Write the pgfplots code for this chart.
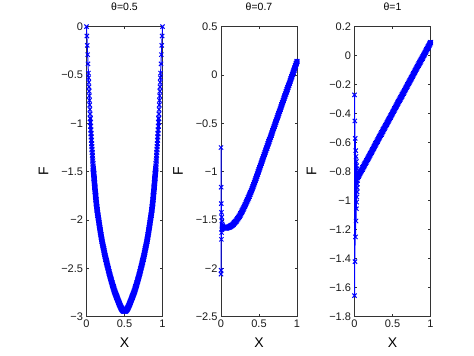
\documentclass[border=0pt]{standalone}
\usepackage{fontspec}
\setmainfont{Liberation Sans}
\usepackage{pgfplots}
\pgfplotsset{compat=1.18}
\definecolor{mblue}{RGB}{0,0,255}
\pgfplotsset{
  mstyle/.style={
    scale only axis, width=76pt, height=290pt, anchor=south west,
    xmin=0, xmax=1, xtick={0,0.5,1}, xticklabels={0,0.5,1},
    tick align=inside, major tick length=2.5pt,
    axis line style={black!80, line width=0.6pt}, every tick/.style={black!80, line width=0.6pt},
    tick label style={font=\fontsize{11}{13}\selectfont, text=black!90},
    title style={font=\fontsize{10.5}{12}\selectfont, at={(axis description cs:0.5,1.048)}, anchor=center},
    xlabel={X}, ylabel={F},
    label style={font=\fontsize{14}{16}\selectfont},
    xlabel style={at={(axis description cs:0.5,-0.0897)}, anchor=center},
    ylabel style={at={(axis description cs:-0.566,0.5)}, anchor=center},
    clip=false,
  },
  mplot/.style={color=mblue, mark=x, mark size=3pt, line width=1pt, mark options={solid, line width=1pt}, line join=round},
  mmid/.style={color=mblue, mark=x, mark size=3.1pt, line width=3pt, mark options={solid, line width=1.05pt}, line join=round, line cap=round},
  mthick/.style={color=mblue, mark=x, mark size=3.2pt, line width=5.5pt, mark options={solid, line width=1.1pt}, line join=round, line cap=round},
}
\begin{document}
\begin{tikzpicture}
\useasboundingbox (0,0) rectangle (474pt,356pt);
% ---------- theta = 0.5 ----------
\begin{axis}[mstyle, at={(86.5pt,39.3pt)}, title={θ=0.5},
  ymin=-3, ymax=0, ytick={-3,-2.5,-2,-1.5,-1,-0.5,0},
  yticklabels={−3,−2.5,−2,−1.5,−1,−0.5,0}]
\addplot[mplot] coordinates {
(0,0) (0.005,-0.097) (0.010,-0.193) (0.015,-0.289) (0.020,-0.385) (0.025,-0.480)
(0.0275,-0.528) (0.030,-0.575) (0.0325,-0.622) (0.035,-0.668) (0.0375,-0.715)
(0.040,-0.762) (0.0425,-0.809) (0.045,-0.856) (0.0475,-0.903) (0.050,-0.950)
};
\addplot[mmid] coordinates {
(0.050,-0.950) (0.0525,-0.991) (0.055,-1.030) (0.0575,-1.068) (0.060,-1.105)
(0.0625,-1.140) (0.065,-1.175) (0.0675,-1.208) (0.070,-1.240) (0.0725,-1.270)
(0.075,-1.300) (0.0775,-1.330) (0.080,-1.360) (0.0825,-1.389) (0.085,-1.417)
(0.0875,-1.444) (0.090,-1.471)
};
\addplot[mthick] coordinates {
(0.090,-1.471) (0.095,-1.522) (0.100,-1.570)
(0.105,-1.617) (0.110,-1.662) (0.115,-1.705) (0.120,-1.748) (0.125,-1.790)
(0.130,-1.828) (0.135,-1.863) (0.140,-1.895) (0.145,-1.924) (0.150,-1.950)
(0.155,-1.977) (0.160,-2.003) (0.165,-2.029) (0.170,-2.055) (0.175,-2.080)
(0.180,-2.104) (0.185,-2.128) (0.190,-2.152) (0.195,-2.176) (0.200,-2.200)
(0.205,-2.220) (0.210,-2.240) (0.215,-2.259) (0.220,-2.278) (0.225,-2.297)
(0.230,-2.316) (0.235,-2.335) (0.240,-2.353) (0.245,-2.372) (0.250,-2.390)
(0.255,-2.406) (0.260,-2.422) (0.265,-2.438) (0.270,-2.454) (0.275,-2.470)
(0.280,-2.486) (0.285,-2.502) (0.290,-2.518) (0.295,-2.534) (0.300,-2.550)
(0.305,-2.564) (0.310,-2.578) (0.315,-2.592) (0.320,-2.606) (0.325,-2.620)
(0.330,-2.634) (0.335,-2.648) (0.340,-2.662) (0.345,-2.676) (0.350,-2.690)
(0.355,-2.702) (0.360,-2.714) (0.365,-2.726) (0.370,-2.738) (0.375,-2.749)
(0.380,-2.760) (0.385,-2.771) (0.390,-2.781) (0.395,-2.791) (0.400,-2.800)
(0.405,-2.811) (0.410,-2.822) (0.415,-2.832) (0.420,-2.842) (0.425,-2.852)
(0.430,-2.862) (0.435,-2.872) (0.440,-2.881) (0.445,-2.890) (0.450,-2.899)
(0.455,-2.907) (0.460,-2.914) (0.465,-2.920) (0.470,-2.926) (0.475,-2.931)
(0.480,-2.935) (0.485,-2.938) (0.490,-2.940) (0.495,-2.941) (0.500,-2.942)
(0.505,-2.941) (0.510,-2.940) (0.515,-2.938) (0.520,-2.935) (0.525,-2.931)
(0.530,-2.926) (0.535,-2.920) (0.540,-2.914) (0.545,-2.907) (0.550,-2.899)
(0.555,-2.890) (0.560,-2.881) (0.565,-2.872) (0.570,-2.862) (0.575,-2.852)
(0.580,-2.842) (0.585,-2.832) (0.590,-2.822) (0.595,-2.811) (0.600,-2.800)
(0.605,-2.791) (0.610,-2.781) (0.615,-2.771) (0.620,-2.760) (0.625,-2.749)
(0.630,-2.738) (0.635,-2.726) (0.640,-2.714) (0.645,-2.702) (0.650,-2.690)
(0.655,-2.676) (0.660,-2.662) (0.665,-2.648) (0.670,-2.634) (0.675,-2.620)
(0.680,-2.606) (0.685,-2.592) (0.690,-2.578) (0.695,-2.564) (0.700,-2.550)
(0.705,-2.534) (0.710,-2.518) (0.715,-2.502) (0.720,-2.486) (0.725,-2.470)
(0.730,-2.454) (0.735,-2.438) (0.740,-2.422) (0.745,-2.406) (0.750,-2.390)
(0.755,-2.372) (0.760,-2.353) (0.765,-2.335) (0.770,-2.316) (0.775,-2.297)
(0.780,-2.278) (0.785,-2.259) (0.790,-2.240) (0.795,-2.220) (0.800,-2.200)
(0.805,-2.176) (0.810,-2.152) (0.815,-2.128) (0.820,-2.104) (0.825,-2.080)
(0.830,-2.055) (0.835,-2.029) (0.840,-2.003) (0.845,-1.977) (0.850,-1.950)
(0.855,-1.924) (0.860,-1.895) (0.865,-1.863) (0.870,-1.828) (0.875,-1.790)
(0.880,-1.748) (0.885,-1.705) (0.890,-1.662) (0.895,-1.617) (0.900,-1.570)
(0.905,-1.522) (0.910,-1.471)
};
\addplot[mmid] coordinates {
(0.910,-1.471) (0.9125,-1.444) (0.915,-1.417) (0.9175,-1.389) (0.920,-1.360)
(0.9225,-1.330) (0.925,-1.300) (0.9275,-1.270) (0.930,-1.240) (0.9325,-1.208)
(0.935,-1.175) (0.9375,-1.140) (0.940,-1.105) (0.9425,-1.068) (0.945,-1.030)
(0.9475,-0.991) (0.950,-0.950)
};
\addplot[mplot] coordinates {
(0.950,-0.950) (0.9525,-0.903) (0.955,-0.856) (0.9575,-0.809) (0.960,-0.762)
(0.9625,-0.715) (0.965,-0.668) (0.9675,-0.622) (0.970,-0.575) (0.9725,-0.528)
(0.975,-0.480) (0.980,-0.385) (0.985,-0.289) (0.990,-0.193) (0.995,-0.097) (1.000,0)
};
\end{axis}
% ---------- theta = 0.7 ----------
\begin{axis}[mstyle, at={(221pt,39.3pt)}, title={θ=0.7},
  ymin=-2.5, ymax=0.5, ytick={-2.5,-2,-1.5,-1,-0.5,0,0.5},
  yticklabels={−2.5,−2,−1.5,−1,−0.5,0,0.5}]
\addplot[mplot] coordinates {
(0.000,-0.75) (0.000,-2.06) (0.002,-1.16) (0.002,-2.02) (0.004,-1.33) (0.005,-1.70)
(0.006,-1.42) (0.008,-1.63) (0.009,-1.47) (0.011,-1.60) (0.012,-1.51) (0.014,-1.59)
(0.015,-1.54) (0.017,-1.58) (0.018,-1.555) (0.02,-1.568)
};
\addplot[mthick] coordinates {
(0.02,-1.568) (0.03,-1.574) (0.04,-1.578) (0.05,-1.580) (0.06,-1.581) (0.07,-1.581)
(0.08,-1.580) (0.09,-1.578) (0.10,-1.575) (0.11,-1.571) (0.12,-1.566) (0.13,-1.561)
(0.14,-1.557) (0.15,-1.552) (0.16,-1.543) (0.17,-1.534) (0.18,-1.526) (0.19,-1.518)
(0.20,-1.510) (0.21,-1.498) (0.22,-1.486) (0.23,-1.474) (0.24,-1.462) (0.25,-1.450)
(0.26,-1.435) (0.27,-1.420) (0.28,-1.405) (0.29,-1.390) (0.30,-1.375) (0.31,-1.358)
(0.32,-1.341) (0.33,-1.324) (0.34,-1.307) (0.35,-1.290) (0.36,-1.271) (0.37,-1.253)
(0.38,-1.234) (0.39,-1.216) (0.40,-1.197) (0.41,-1.176) (0.42,-1.155) (0.43,-1.134)
(0.44,-1.113) (0.45,-1.092) (0.46,-1.070) (0.47,-1.047) (0.48,-1.025) (0.49,-1.002)
(0.50,-0.980) (0.51,-0.958) (0.52,-0.935) (0.53,-0.913) (0.54,-0.890) (0.55,-0.868)
(0.56,-0.846) (0.57,-0.823) (0.58,-0.801) (0.59,-0.778) (0.60,-0.756) (0.61,-0.734)
(0.62,-0.711) (0.63,-0.689) (0.64,-0.666) (0.65,-0.644) (0.66,-0.622) (0.67,-0.599)
(0.68,-0.577) (0.69,-0.554) (0.70,-0.532) (0.71,-0.510) (0.72,-0.487) (0.73,-0.465)
(0.74,-0.442) (0.75,-0.420) (0.76,-0.398) (0.77,-0.375) (0.78,-0.353) (0.79,-0.330)
(0.80,-0.308) (0.81,-0.286) (0.82,-0.263) (0.83,-0.241) (0.84,-0.218) (0.85,-0.196)
(0.86,-0.174) (0.87,-0.151) (0.88,-0.129) (0.89,-0.106) (0.90,-0.084) (0.91,-0.062)
(0.92,-0.039) (0.93,-0.017) (0.94,0.006) (0.95,0.028) (0.96,0.050) (0.97,0.073)
(0.98,0.095) (0.99,0.118) (1.00,0.140)
};
\end{axis}
% ---------- theta = 1 ----------
\begin{axis}[mstyle, at={(354.5pt,39.3pt)}, title={θ=1},
  ymin=-1.8, ymax=0.2, ytick={-1.8,-1.6,-1.4,-1.2,-1,-0.8,-0.6,-0.4,-0.2,0,0.2},
  yticklabels={−1.8,−1.6,−1.4,−1.2,−1,−0.8,−0.6,−0.4,−0.2,0,0.2}]
\addplot[mplot] coordinates {
(0.000,-0.27) (0.000,-1.655) (0.004,-0.45) (0.006,-1.42) (0.010,-0.57) (0.013,-1.25)
(0.016,-0.655) (0.020,-1.14) (0.020,-0.695) (0.025,-1.055) (0.024,-0.73) (0.028,-1.01)
(0.027,-0.76) (0.031,-0.975) (0.030,-0.78) (0.034,-0.94) (0.033,-0.80) (0.036,-0.91)
(0.036,-0.815) (0.038,-0.885) (0.039,-0.83) (0.040,-0.86) (0.04,-0.841)
};
\addplot[mthick] coordinates {
(0.04,-0.841) (0.05,-0.832) (0.06,-0.822) (0.07,-0.812) (0.08,-0.802) (0.09,-0.793)
(0.10,-0.783) (0.11,-0.773) (0.12,-0.764) (0.13,-0.754) (0.14,-0.744) (0.15,-0.735)
(0.16,-0.725) (0.17,-0.715) (0.18,-0.705) (0.19,-0.696) (0.20,-0.686) (0.21,-0.676)
(0.22,-0.667) (0.23,-0.657) (0.24,-0.647) (0.25,-0.638) (0.26,-0.628) (0.27,-0.618)
(0.28,-0.608) (0.29,-0.599) (0.30,-0.589) (0.31,-0.579) (0.32,-0.570) (0.33,-0.560)
(0.34,-0.550) (0.35,-0.541) (0.36,-0.531) (0.37,-0.521) (0.38,-0.511) (0.39,-0.502)
(0.40,-0.492) (0.41,-0.482) (0.42,-0.473) (0.43,-0.463) (0.44,-0.453) (0.45,-0.444)
(0.46,-0.434) (0.47,-0.424) (0.48,-0.414) (0.49,-0.405) (0.50,-0.395) (0.51,-0.385)
(0.52,-0.376) (0.53,-0.366) (0.54,-0.356) (0.55,-0.347) (0.56,-0.337) (0.57,-0.327)
(0.58,-0.317) (0.59,-0.308) (0.60,-0.298) (0.61,-0.288) (0.62,-0.279) (0.63,-0.269)
(0.64,-0.259) (0.65,-0.250) (0.66,-0.240) (0.67,-0.230) (0.68,-0.220) (0.69,-0.211)
(0.70,-0.201) (0.71,-0.191) (0.72,-0.182) (0.73,-0.172) (0.74,-0.162) (0.75,-0.153)
(0.76,-0.143) (0.77,-0.133) (0.78,-0.123) (0.79,-0.114) (0.80,-0.104) (0.81,-0.094)
(0.82,-0.085) (0.83,-0.075) (0.84,-0.065) (0.85,-0.056) (0.86,-0.046) (0.87,-0.036)
(0.88,-0.026) (0.89,-0.017) (0.90,-0.007) (0.91,0.003) (0.92,0.012) (0.93,0.022)
(0.94,0.032) (0.95,0.042) (0.96,0.051) (0.97,0.061) (0.98,0.071) (0.99,0.080)
(1.00,0.090)
};
\end{axis}
\end{tikzpicture}
\end{document}
